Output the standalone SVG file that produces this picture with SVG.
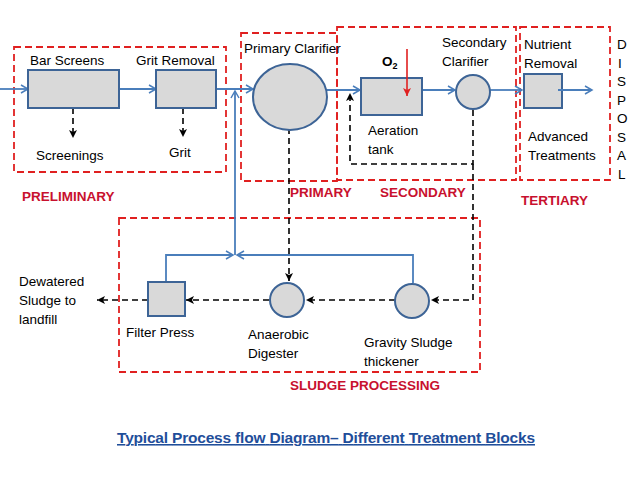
<svg xmlns="http://www.w3.org/2000/svg" width="638" height="479" viewBox="0 0 638 479">
<defs>
<marker id="ab" markerWidth="10" markerHeight="10" refX="8" refY="5" orient="auto" markerUnits="userSpaceOnUse"><path d="M1,1 L8,5 L1,9" fill="none" stroke="#4a7ebb" stroke-width="1.5"/></marker>
<marker id="ak" markerWidth="10" markerHeight="10" refX="8" refY="5" orient="auto" markerUnits="userSpaceOnUse"><path d="M0,1 L8,5 L0,9 L2,5 Z" fill="#000"/></marker>
<marker id="ar" markerWidth="10" markerHeight="10" refX="8" refY="5" orient="auto" markerUnits="userSpaceOnUse"><path d="M0,1 L8,5 L0,9 L2,5 Z" fill="#e02020"/></marker>
</defs>
<style>
text{font-family:"Liberation Sans",Arial,sans-serif;font-size:13.5px;fill:#000}
.lab{fill:#c8102e;font-weight:bold;font-size:13.5px}
.zone{fill:none;stroke:#e02020;stroke-width:1.8;stroke-dasharray:7,4}
.box{fill:#d9d9d9;stroke:#3d6496;stroke-width:2}
.flow{fill:none;stroke:#4a7ebb;stroke-width:1.8;marker-end:url(#ab)}
.dasha{fill:none;stroke:#000;stroke-width:1.6;stroke-dasharray:6,4;marker-end:url(#ak)}
</style>
<rect width="638" height="479" fill="#fff"/>
<g id="zones">
<rect class="zone" x="14" y="47" width="212" height="125"/>
<rect class="zone" x="241" y="33" width="96" height="148"/>
<rect class="zone" x="337" y="27" width="179" height="153"/>
<rect class="zone" x="520" y="27" width="90" height="153"/>
<rect class="zone" x="119" y="218" width="361" height="154"/>
<text class="lab" x="22" y="201">PRELIMINARY</text>
<text class="lab" x="290" y="197">PRIMARY</text>
<text class="lab" x="380" y="197">SECONDARY</text>
<text class="lab" x="521" y="205">TERTIARY</text>
<text class="lab" x="290" y="390">SLUDGE PROCESSING</text>
</g>
<g id="connectors">
<line class="flow" x1="0" y1="89" x2="28" y2="89"/>
<line class="flow" x1="119" y1="89" x2="156" y2="89"/>
<line class="flow" x1="216" y1="89" x2="253" y2="89"/>
<line class="flow" x1="235" y1="255" x2="235" y2="91"/>
<polyline class="flow" points="166,282 166,255 233,255"/>
<polyline class="flow" points="413,283 413,255 237,255"/>
<line class="flow" x1="327" y1="90" x2="360" y2="90"/>
<line class="flow" x1="422" y1="90" x2="455" y2="90"/>
<line class="flow" x1="490" y1="90" x2="522" y2="90"/>
<line class="dasha" x1="73" y1="108" x2="73" y2="138"/>
<line class="dasha" x1="183" y1="108" x2="183" y2="137"/>
<line class="dasha" x1="289" y1="118" x2="289" y2="281"/>
<polyline class="dasha" points="473,110 473,164 350,164 350,93"/>
<polyline class="dasha" points="473,164 473,300 431,300"/>
<line class="dasha" x1="395" y1="300" x2="306" y2="300"/>
<line class="dasha" x1="269" y1="300" x2="186" y2="300"/>
<line class="dasha" x1="148" y1="300" x2="97" y2="300"/>
</g>
<g id="bar-screens"><rect class="box" x="28" y="70" width="91" height="38"/><text x="30" y="65">Bar Screens</text><text x="36" y="160">Screenings</text></g>
<g id="grit-removal"><rect class="box" x="156" y="70" width="60" height="38"/><text x="136" y="65">Grit Removal</text><text x="169" y="157">Grit</text></g>
<g id="primary-clarifier"><ellipse class="box" cx="290" cy="97" rx="37" ry="33"/><text x="244" y="53">Primary Clarifier</text></g>
<g id="aeration-tank"><rect class="box" x="361" y="78" width="61" height="37"/><text x="382" y="66" font-weight="bold">O<tspan font-size="9" dy="3">2</tspan></text><text x="368" y="135">Aeration</text><text x="368" y="154">tank</text>
<line x1="407" y1="49" x2="407" y2="96" stroke="#e02020" stroke-width="1.6" marker-end="url(#ar)"/></g>
<g id="secondary-clarifier"><circle class="box" cx="473" cy="92" r="17"/><text x="442" y="47">Secondary</text><text x="442" y="66">Clarifier</text></g>
<g id="nutrient-removal"><rect class="box" x="524" y="74" width="38" height="34"/><text x="524" y="49">Nutrient</text><text x="524" y="68">Removal</text><text x="528" y="141">Advanced</text><text x="528" y="160">Treatments</text>
<line class="flow" x1="558" y1="90" x2="592" y2="90"/></g>
<g id="disposal">
<text x="617" y="49">D</text><text x="618" y="68">I</text><text x="617" y="86">S</text><text x="617" y="105">P</text><text x="617" y="123">O</text><text x="617" y="142">S</text><text x="617" y="160">A</text><text x="618" y="179">L</text>
</g>
<g id="filter-press"><rect class="box" x="148" y="282" width="37" height="34"/><text x="126" y="337">Filter Press</text><text x="19" y="286">Dewatered</text><text x="19" y="305">Sludge to</text><text x="19" y="324">landfill</text></g>
<g id="digester"><circle class="box" cx="287" cy="300" r="17"/><text x="248" y="339">Anaerobic</text><text x="248" y="358">Digester</text></g>
<g id="thickener"><circle class="box" cx="412" cy="301" r="17"/><text x="364" y="347">Gravity Sludge</text><text x="364" y="366">thickener</text></g>
<text x="117" y="443" font-weight="bold" style="fill:#1f4e9a;font-size:15.5px" text-decoration="underline" textLength="418">Typical Process flow Diagram– Different Treatment Blocks</text>
</svg>
